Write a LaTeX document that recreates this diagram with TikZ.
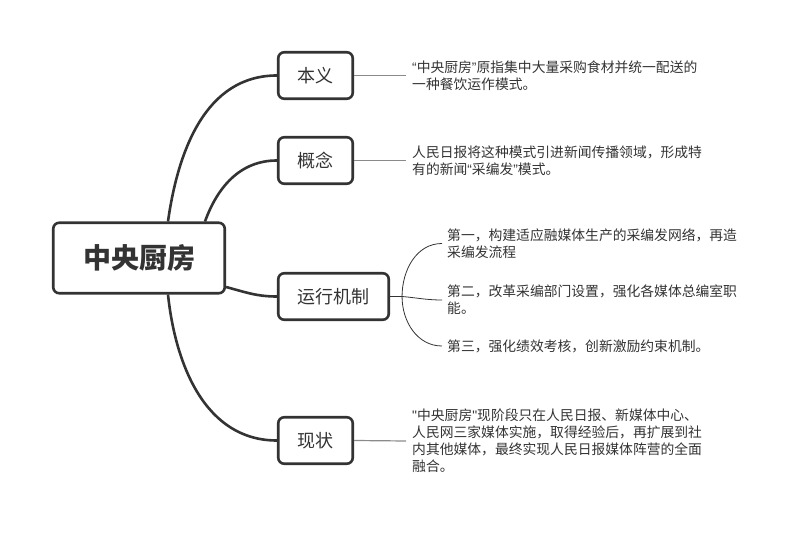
\documentclass[tikz,border=0pt]{standalone}
\usepackage{fontspec}
\setmainfont{Noto Sans CJK SC}
\newfontfamily\latinq{Liberation Sans}
\newcommand{\qmark}[1]{{\latinq #1}}
\usepackage{xcolor}
\definecolor{linedark}{HTML}{333333}
\definecolor{textdark}{HTML}{333333}
\definecolor{leafgray}{HTML}{8A8A8A}
\usetikzlibrary{positioning,calc}
\tikzset{
  topic/.style={rectangle, rounded corners=6pt, draw=linedark, line width=2.6pt, fill=white, text=textdark, font=\fontsize{18pt}{20pt}\selectfont, minimum height=46.5pt, inner xsep=0pt},
  root/.style={topic, minimum width=171.5pt, minimum height=70.5pt, font=\fontsize{28pt}{30pt}\selectfont\bfseries},
  leaf/.style={anchor=west, inner xsep=6pt, inner ysep=0pt, text=textdark, align=left, font=\fontsize{13.8pt}{17pt}\selectfont},
  branch/.style={draw=linedark, line width=2.6pt},
  twig/.style={draw=leafgray, line width=1.2pt},
  forkline/.style={draw=linedark, line width=0.8pt},
}
\begin{document}
\begin{tikzpicture}[x=1pt,y=1pt]
        \useasboundingbox (0,0) rectangle (798,533);
        % Root and main topics
        \node[root] (kitchen) at (139,275) {中央厨房};
        \node[topic, minimum width=74.5pt] (benyi) at (315.5,457.5) {本义};
        \node[topic, minimum width=74.5pt] (gainian) at (315.5,372.5) {概念};
        \node[topic, minimum width=110.5pt] (jizhi) at (333.5,236.5) {运行机制};
        \node[topic, minimum width=74.5pt] (xianzhuang) at (315.5,92.5) {现状};
        \draw[branch] ([xshift=29pt]kitchen.north) to[out=82,in=180] (benyi.west);
        \draw[branch] ([xshift=66pt]kitchen.north) to[out=70,in=180] (gainian.west);
        \draw[branch] ([yshift=-29pt]kitchen.east) to[out=-15,in=180] (jizhi.west);
        \draw[branch] ([xshift=29pt]kitchen.south) to[out=-84,in=180] (xianzhuang.west);
        % Leaf texts
        \node[leaf] (t-benyi) at (406,457.5) {\qmark{“}中央厨房\qmark{”}原指集中大量采购食材并统一配送的\\一种餐饮运作模式。};
        \node[leaf] (t-gainian) at (406,372.5) {人民日报将这种模式引进新闻传播领域，形成特\\有的新闻\qmark{“}采编发\qmark{”}模式。};
        \node[leaf] (t-xianzhuang) at (406,92) {\qmark{"}中央厨房\qmark{"}现阶段只在人民日报、新媒体中心、\\人民网三家媒体实施，取得经验后，再扩展到社\\内其他媒体，最终实现人民日报媒体阵营的全面\\融合。};
        \draw[twig] (benyi.east) -- (t-benyi.west);
        \draw[twig] (gainian.east) -- (t-gainian.west);
        \draw[twig] (xianzhuang.east) -- (t-xianzhuang.west);
        % Mechanism items
        \coordinate (fork) at ([xshift=12pt]jizhi.east);
        \node[leaf, inner xsep=5pt] (m1) at (442,289.5) {第一，构建适应融媒体生产的采编发网络，再造\\采编发流程};
        \node[leaf, inner xsep=5pt] (m2) at (442,233) {第二，改革采编部门设置，强化各媒体总编室职\\能。};
        \node[leaf, inner xsep=5pt] (m3) at (442,187) {第三，强化绩效考核，创新激励约束机制。};
        \draw[forkline] (jizhi.east) -- (fork);
        \draw[forkline] (fork) to[out=90,in=180] (m1.west);
        \draw[forkline] (fork) to[out=-5,in=180] (m2.west);
        \draw[forkline] (fork) to[out=-90,in=180] (m3.west);
      \end{tikzpicture}
\end{document}
